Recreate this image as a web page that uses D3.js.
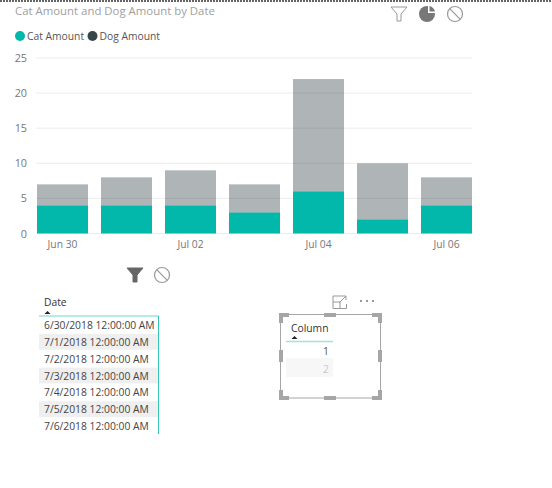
<!DOCTYPE html>
<html><head><meta charset="utf-8">
<script src="https://cdn.jsdelivr.net/npm/d3@7"></script>
<style>html,body{margin:0;padding:0;background:#fff;overflow:hidden}svg{display:block}text{font-family:"Open Sans","Noto Sans",sans-serif}</style>
</head><body><svg id="c" width="552" height="488"></svg>
<script>
const dates=["Jun 30","Jul 01","Jul 02","Jul 03","Jul 04","Jul 05","Jul 06"];
const catAmount=[4,4,4,3,6,2,4];
const dogAmount=[3,4,5,4,16,8,4];
const seriesNames=["Cat Amount","Dog Amount"];
const yTicks=[0,5,10,15,20,25];
const xTickLabels=["Jun 30","Jul 02","Jul 04","Jul 06"];
const tableDates=["6/30/2018 12:00:00 AM","7/1/2018 12:00:00 AM","7/2/2018 12:00:00 AM","7/3/2018 12:00:00 AM","7/4/2018 12:00:00 AM","7/5/2018 12:00:00 AM","7/6/2018 12:00:00 AM"];
const columnValues=[1,2];
const title="Cat Amount and Dog Amount by Date";
const catColor="#01B8AA",dogColor="#374649";
const fs=10.3;

const svg=d3.select("#c");
svg.append("line").attr("x1",0).attr("x2",552).attr("y1",1).attr("y2",1).attr("stroke","#666").attr("stroke-width",2).attr("stroke-dasharray","2 1");
svg.append("text").attr("x",15).attr("y",15).attr("font-size",11.4).attr("fill","#a0a0a0").text(title);

// legend
const leg=[[20,27],[92.5,99.5]];
seriesNames.forEach((n,i)=>{
 svg.append("circle").attr("cx",leg[i][0]).attr("cy",36).attr("r",5).attr("fill",i?dogColor:catColor);
 svg.append("text").attr("x",leg[i][1]).attr("y",40).attr("font-size",fs).attr("fill","#555").text(n);
});

// scales
const x=d3.scaleBand().domain(dates).range([30.5,478.5]).paddingInner(13/64).paddingOuter(6.5/64);
const y=d3.scaleLinear().domain([0,25]).range([233.5,58]);

// grid
const gridG=svg.append("g");
yTicks.forEach(t=>{
 gridG.append("line").attr("x1",36).attr("x2",472).attr("y1",y(t)).attr("y2",y(t)).attr("stroke","#ececec").attr("stroke-width",1);
 svg.append("text").attr("x",27).attr("y",y(t)+4).attr("text-anchor","end").attr("font-size",10.8).attr("fill","#777").text(t);
});

// bars
const g=svg.append("g");
g.selectAll("rect.cat").data(dates).join("rect").attr("class","cat")
 .attr("x",d=>x(d)).attr("width",x.bandwidth())
 .attr("y",(d,i)=>y(catAmount[i])).attr("height",(d,i)=>y(0)-y(catAmount[i])).attr("fill",catColor);
g.selectAll("rect.dog").data(dates).join("rect").attr("class","dog")
 .attr("x",d=>x(d)).attr("width",x.bandwidth())
 .attr("y",(d,i)=>y(catAmount[i]+dogAmount[i])).attr("height",(d,i)=>y(catAmount[i])-y(catAmount[i]+dogAmount[i])).attr("fill",dogColor).attr("fill-opacity",.4);

xTickLabels.forEach(t=>{
 svg.append("text").attr("x",x(t)+x.bandwidth()/2).attr("y",248).attr("text-anchor","middle").attr("font-size",fs).attr("fill","#777").text(t);
});

// icons
function funnel(cx,cy,solid){
 svg.append("path").attr("d",`M${cx-8} ${cy-7}H${cx+8}L${cx+2} ${cy}V${cy+7}H${cx-2}V${cy}Z`)
  .attr("fill",solid?"#666":"none").attr("stroke",solid?"#666":"#999").attr("stroke-width",1);
}
function ban(cx,cy){
 svg.append("circle").attr("cx",cx).attr("cy",cy).attr("r",7.5).attr("fill","none").attr("stroke","#999").attr("stroke-width",1.2);
 svg.append("line").attr("x1",cx-5.3).attr("y1",cy-5.3).attr("x2",cx+5.3).attr("y2",cy+5.3).attr("stroke","#999").attr("stroke-width",1.2);
}
funnel(399,14,false);
ban(455,14);
svg.append("circle").attr("cx",427).attr("cy",14).attr("r",8).attr("fill","#777");
svg.append("path").attr("d","M428 13V4.5H430.5L436 10V13Z").attr("fill","#fff");
svg.append("path").attr("d","M429.5 11.5V6A8 8 0 0 1 435 11.5Z").attr("fill","#777");
funnel(135,275,true);
ban(162,275);

// date table
svg.append("text").attr("x",44).attr("y",306).attr("font-size",fs).attr("fill","#333").text("Date");
svg.append("path").attr("d","M44.5 314L47.5 311L50.5 314Z").attr("fill","#222");
const rowY=d3.scaleBand().domain(tableDates).range([316,434]);
tableDates.forEach((d,i)=>{
 if(i%2) svg.append("rect").attr("x",39).attr("y",rowY(d)+1).attr("width",119).attr("height",rowY.bandwidth()-1).attr("fill","#efefef");
 svg.append("text").attr("x",44).attr("y",rowY(d)+13).attr("font-size",fs).attr("fill","#444").text(d);
});
svg.append("line").attr("x1",39).attr("x2",159).attr("y1",316).attr("y2",316).attr("stroke","#9fe3dc").attr("stroke-width",1.5);
svg.append("line").attr("x1",158.5).attr("x2",158.5).attr("y1",316).attr("y2",434).attr("stroke","#35c4b8").attr("stroke-width",1);

// column slicer frame
svg.append("rect").attr("x",280.5).attr("y",314.5).attr("width",100).attr("height",83.5).attr("fill","none").attr("stroke","#a6a6a6").attr("stroke-width",1);
[[279,313,10,4],[279,313,4,10],[372,313,10,4],[378,313,4,10],[279,396,10,4],[279,390,4,10],[372,396,10,4],[378,390,4,10],[324,313,12,4],[324,396,12,4],[279,350,4,12],[378,350,4,12]].forEach(r=>{
 svg.append("rect").attr("x",r[0]).attr("y",r[1]).attr("width",r[2]).attr("height",r[3]).attr("fill","#a6a6a6");
});
svg.append("text").attr("x",291).attr("y",332).attr("font-size",fs).attr("fill","#333").text("Column");
svg.append("path").attr("d","M291.5 339L294.5 336L297.5 339Z").attr("fill","#222");
svg.append("line").attr("x1",286).attr("x2",333).attr("y1",341.5).attr("y2",341.5).attr("stroke","#9fe3dc").attr("stroke-width",1.5);
svg.append("line").attr("x1",286).attr("x2",333).attr("y1",359).attr("y2",359).attr("stroke","#eee");
svg.append("rect").attr("x",286).attr("y",360).attr("width",47).attr("height",17).attr("fill","#f7f7f7");
const colRow=d3.scaleBand().domain(columnValues).range([342,377]);
columnValues.forEach((v,i)=>{
 svg.append("text").attr("x",329).attr("y",colRow(v)+13).attr("text-anchor","end").attr("font-size",fs).attr("fill",i?"#c8c8c8":"#555").text(v);
});
// focus icons
svg.append("path").attr("d","M333 296H346M346 296V300M333 296V308.5H346.5M346.5 308.5V304M333 302H340V308.5M339 303L346 296").attr("fill","none").attr("stroke","#999").attr("stroke-width",1);
[361,367,373].forEach(cx=>svg.append("circle").attr("cx",cx).attr("cy",301).attr("r",1).attr("fill","#777"));
</script></body></html>
